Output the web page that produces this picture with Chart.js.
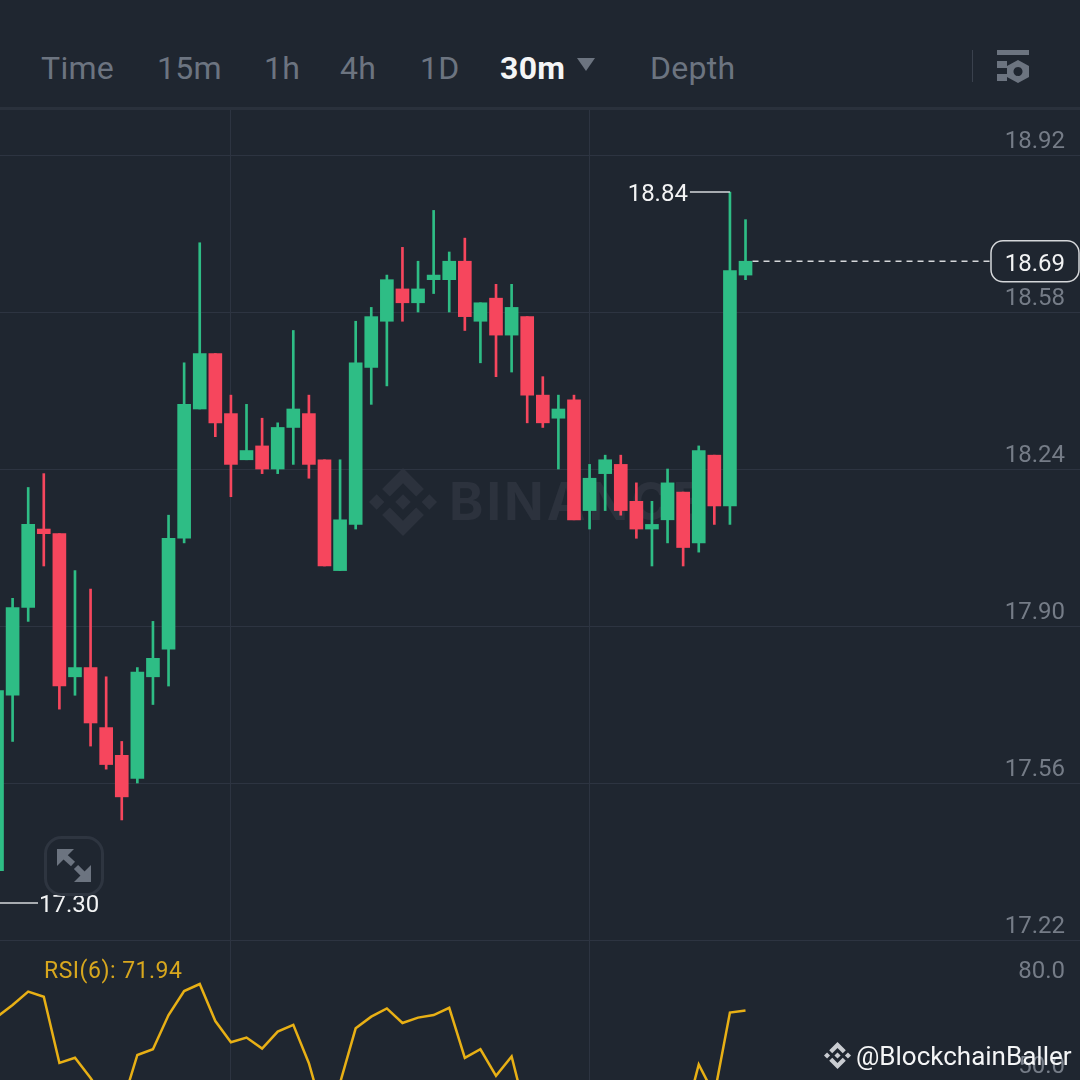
<!DOCTYPE html>
<html>
<head>
<meta charset="utf-8">
<title>Candles</title>
<script src="https://cdn.jsdelivr.net/npm/chart.js@4/dist/chart.umd.min.js"></script>
<style>
  html, body { margin: 0; padding: 0; background: #1f2630; }
  #page { position: relative; width: 1080px; height: 1080px; overflow: hidden; background: #1f2630; font-family: Roboto, sans-serif; }
  canvas { position: absolute; left: 0; display: block; }
  #priceChart { top: 110px; z-index: 2; }
  #rsiChart { top: 940px; z-index: 2; }
  .tab { position: absolute; top: 48px; font-size: 32px; line-height: 40px; color: #6c7480; letter-spacing: 0.3px; white-space: nowrap; }
  .tab.on { color: #f4f5f6; font-weight: 700; }
  #rule { position: absolute; left: 0; top: 107px; width: 1080px; height: 3px; background: #2a313c; }
  #sep { position: absolute; left: 972px; top: 50px; width: 1px; height: 32px; background: #3a414d; }
  #mark { position: absolute; left: 369px; top: 468px; width: 68px; height: 68px; z-index: 1; }
  #markText { position: absolute; left: 449px; top: 471px; font-family: Inter, sans-serif; font-size: 52px; line-height: 62px; font-weight: 700; letter-spacing: 3px; color: #2c323d; z-index: 1; }
  #rsiLabel { position: absolute; left: 44px; top: 956px; font-size: 23px; line-height: 30px; color: #d8a71e; letter-spacing: 0.5px; z-index: 3; }
  #handle { position: absolute; left: 856px; top: 1039px; font-size: 26px; line-height: 34px; color: #f4f5f6; z-index: 3; white-space: nowrap; }
  svg.abs { position: absolute; overflow: visible; }
</style>
</head>
<body>
<div id="page">
  <span class="tab" style="left:41px">Time</span>
  <span class="tab" style="left:157px">15m</span>
  <span class="tab" style="left:264px">1h</span>
  <span class="tab" style="left:340px">4h</span>
  <span class="tab" style="left:420px">1D</span>
  <span class="tab on" style="left:500px">30m</span>
  <span class="tab" style="left:650px">Depth</span>
  <svg class="abs" style="left:0;top:0;z-index:3" width="1080" height="110">
    <polygon points="577,58 595,58 586,71" fill="#6c7480"/>
    <rect x="997" y="50" width="32" height="5" fill="#6c7480"/>
    <rect x="997" y="61" width="10" height="7" fill="#6c7480"/>
    <rect x="997" y="74" width="10" height="7" fill="#6c7480"/>
    <path fill-rule="evenodd" fill="#6c7480" d="M1018 60l11 6v11l-11 6-11-6V66zM1018 67a4.5 4.5 0 1 0 .01 0z"/>
  </svg>
  <div id="sep"></div>
  <div id="rule"></div>

  <svg id="mark" viewBox="0 0 126.61 126.61" fill="#2c323d">
    <path d="M38.73 53.2l24.59-24.58 24.6 24.6 14.3-14.31L63.32 0 24.42 38.9z"/>
    <path d="M0 63.31l14.3-14.31 14.31 14.31-14.31 14.3z"/>
    <path d="M38.73 73.41l24.59 24.59 24.6-24.6 14.31 14.29-38.9 38.91-38.91-38.88v-.03z"/>
    <path d="M98 63.31l14.3-14.31 14.31 14.3-14.31 14.32z"/>
    <path d="M77.83 63.3L63.32 48.78 52.59 59.51l-1.24 1.23-2.54 2.54 14.51 14.5 14.51-14.47z"/>
  </svg>
  <div id="markText">BINANCE</div>

  <canvas id="priceChart" width="1080" height="832"></canvas>
  <canvas id="rsiChart" width="1080" height="140"></canvas>

  <svg class="abs" style="left:0;top:0;z-index:3;pointer-events:none" width="1080" height="1080">
    <rect x="45.5" y="837.5" width="57" height="57" rx="16" fill="#1f2630" fill-opacity="0.6" stroke="#2e3540" stroke-width="3"/>
    <polygon points="57,849 74,849 57,866" fill="#6c7480"/>
    <polygon points="91,882 74,882 91,865" fill="#6c7480"/>
    <line x1="62" y1="854" x2="73" y2="864" stroke="#6c7480" stroke-width="6"/>
    <line x1="86" y1="877" x2="76" y2="867" stroke="#6c7480" stroke-width="6"/>
  </svg>

  <div id="rsiLabel">RSI(6): 71.94</div>
  <svg class="abs" style="left:824px;top:1042px;z-index:3" width="27" height="27" viewBox="0 0 126.61 126.61" fill="#c9ccd1">
    <path d="M38.73 53.2l24.59-24.58 24.6 24.6 14.3-14.31L63.32 0 24.42 38.9z"/>
    <path d="M0 63.31l14.3-14.31 14.31 14.31-14.31 14.3z"/>
    <path d="M38.73 73.41l24.59 24.59 24.6-24.6 14.31 14.29-38.9 38.91-38.91-38.88v-.03z"/>
    <path d="M98 63.31l14.3-14.31 14.31 14.3-14.31 14.32z"/>
    <path d="M77.83 63.3L63.32 48.78 52.59 59.51l-1.24 1.23-2.54 2.54 14.51 14.5 14.51-14.47z"/>
  </svg>
  <div id="handle">@BlockchainBaller</div>
</div>

<script>
// candle values, oldest first
const opens  = [17.37,17.75,17.94,18.11,18.10,17.79,17.81,17.68,17.62,17.57,17.79,17.85,18.09,18.37,18.49,18.36,18.26,18.29,18.24,18.33,18.36,18.26,18.02,18.12,18.46,18.56,18.63,18.60,18.65,18.65,18.69,18.56,18.61,18.53,18.57,18.40,18.35,18.39,18.15,18.23,18.25,18.17,18.11,18.13,18.19,18.08,18.27,18.16,18.66];
const highs  = [17.78,17.96,18.20,18.23,18.10,18.02,17.98,17.79,17.65,17.81,17.91,18.14,18.47,18.73,18.49,18.40,18.38,18.35,18.34,18.54,18.40,18.26,18.26,18.56,18.59,18.66,18.72,18.69,18.80,18.71,18.74,18.60,18.64,18.64,18.57,18.44,18.40,18.40,18.25,18.27,18.27,18.21,18.17,18.24,18.19,18.29,18.27,18.84,18.78];
const lows   = [17.30,17.65,17.91,18.03,17.72,17.75,17.64,17.59,17.48,17.56,17.73,17.77,18.08,18.37,18.31,18.18,18.26,18.23,18.23,18.25,18.22,18.03,18.02,18.11,18.38,18.42,18.56,18.58,18.62,18.58,18.54,18.47,18.44,18.45,18.34,18.33,18.24,18.13,18.11,18.15,18.14,18.09,18.03,18.08,18.03,18.06,18.12,18.12,18.65];
const closes = [17.76,17.94,18.12,18.10,17.77,17.81,17.69,17.60,17.53,17.80,17.83,18.09,18.38,18.49,18.34,18.25,18.28,18.24,18.33,18.37,18.25,18.03,18.13,18.47,18.57,18.65,18.60,18.63,18.66,18.69,18.57,18.60,18.53,18.59,18.40,18.34,18.37,18.13,18.22,18.26,18.15,18.11,18.12,18.21,18.07,18.28,18.16,18.67,18.69];
const rsiValues = [69.9,73.7,77.9,76.3,55.4,57.0,50.6,43.7,41.8,57.9,59.7,70.5,78.1,80.3,68.6,61.9,63.4,59.9,65.3,67.4,55.3,38.0,49.1,66.3,70.0,72.6,68.0,69.7,70.5,72.8,57.0,59.7,51.3,57.4,38.0,32.0,35.0,24.0,31.0,37.0,31.0,28.0,28.0,37.0,35.8,54.9,45.3,71.3,71.94];

const priceTicks = [17.22,17.56,17.90,18.24,18.58,18.92];
const rsiTicks = [50,80];
const timeGridCandles = [15,38]; // candles that carry the vertical grid lines

const GREEN = '#2ebd85';
const RED = '#f6465d';
const GRID = '#2d3441';
const AXIS_TEXT = '#757c87';
const BG = '#1f2630';

// same horizontal window for both panels
const xWindow = { min: 0.192, max: 69.449 };

const candleColors = opens.map((o, i) => closes[i] >= o ? GREEN : RED);

function gridX() {
    return {
        type: 'linear',
        min: xWindow.min,
        max: xWindow.max,
        offset: false,
        afterBuildTicks: scale => { scale.ticks = timeGridCandles.map(v => ({ value: v })); },
        grid: { color: GRID, lineWidth: 1, offset: false, drawTicks: false },
        border: { display: false },
        ticks: { display: false }
    };
}

function axisY(min, max, values, digits) {
    return {
        position: 'right',
        min: min,
        max: max,
        afterBuildTicks: scale => { scale.ticks = values.map(v => ({ value: v })); },
        // labels sit inside the plot, so the axis must not take any room
        afterFit: scale => {
            scale.width = 0;
            scale.paddingTop = 0;
            scale.paddingBottom = 0;
        },
        grid: { color: GRID, lineWidth: 1, drawTicks: false },
        border: { display: false },
        ticks: {
            mirror: true,
            padding: -15,
            autoSkip: false,
            color: AXIS_TEXT,
            font: { family: 'Roboto', size: 24, lineHeight: 26 / 24 },
            // empty second line lifts the label above its grid line
            callback: v => [Number(v).toFixed(digits), '']
        }
    };
}

// high / low callouts and the last price tag
const priceMarks = {
    id: 'priceMarks',
    afterDatasetsDraw(chart) {
        const { ctx, scales } = chart;
        const x = scales.x, y = scales.y;
        const top = Math.max(...highs), bottom = Math.min(...lows);
        const topX = x.getPixelForValue(highs.indexOf(top));
        const topY = y.getPixelForValue(top);
        const bottomY = y.getPixelForValue(bottom);
        const last = closes[closes.length - 1];
        const lastX = x.getPixelForValue(closes.length - 1);
        const lastY = y.getPixelForValue(last);

        ctx.save();
        ctx.font = '24px Roboto';
        ctx.textBaseline = 'middle';
        ctx.strokeStyle = '#d5d7da';
        ctx.lineWidth = 1.5;

        ctx.beginPath();
        ctx.moveTo(topX - 40, topY);
        ctx.lineTo(topX, topY);
        ctx.moveTo(0, bottomY);
        ctx.lineTo(38, bottomY);
        ctx.stroke();

        ctx.fillStyle = '#f2f3f4';
        ctx.textAlign = 'right';
        ctx.fillText(top.toFixed(2), topX - 42, topY + 3);
        ctx.textAlign = 'left';
        ctx.fillText(bottom.toFixed(2), 39, bottomY + 3);

        ctx.setLineDash([6, 5]);
        ctx.beginPath();
        ctx.moveTo(lastX + 7, lastY);
        ctx.lineTo(991, lastY);
        ctx.stroke();
        ctx.setLineDash([]);

        ctx.fillStyle = BG;
        ctx.beginPath();
        ctx.roundRect(991, lastY - 20.5, 88, 41, 12);
        ctx.fill();
        ctx.stroke();
        ctx.fillStyle = '#f2f3f4';
        ctx.textAlign = 'right';
        ctx.fillText(last.toFixed(2), 1065, lastY + 4);
        ctx.restore();
    }
};

new Chart(document.getElementById('priceChart').getContext('2d'), {
    type: 'bar',
    data: {
        datasets: [
            {
                label: 'body',
                data: opens.map((o, i) => ({ x: i, y: [o, closes[i]] })),
                backgroundColor: candleColors,
                barThickness: 13,
                grouped: false,
                order: 1
            },
            {
                label: 'wick',
                data: lows.map((l, i) => ({ x: i, y: [l, highs[i]] })),
                backgroundColor: candleColors,
                barThickness: 2,
                grouped: false,
                order: 2
            }
        ]
    },
    options: {
        responsive: false,
        animation: false,
        layout: { padding: { bottom: 2 } },
        plugins: { legend: { display: false }, tooltip: { enabled: false } },
        scales: {
            x: gridX(),
            y: axisY(17.22, 19.0175, priceTicks, 2)
        }
    },
    plugins: [priceMarks]
});

new Chart(document.getElementById('rsiChart').getContext('2d'), {
    type: 'line',
    data: {
        datasets: [{
            label: 'RSI(6)',
            data: rsiValues.map((v, i) => ({ x: i, y: v })),
            borderColor: '#e8b015',
            borderWidth: 2.5,
            pointRadius: 0,
            tension: 0
        }]
    },
    options: {
        responsive: false,
        animation: false,
        plugins: { legend: { display: false }, tooltip: { enabled: false } },
        scales: {
            x: gridX(),
            y: (() => {
                const y = axisY(50, 94.2, rsiTicks, 1);
                y.grid.display = false;
                return y;
            })()
        }
    }
});
</script>
</body>
</html>
